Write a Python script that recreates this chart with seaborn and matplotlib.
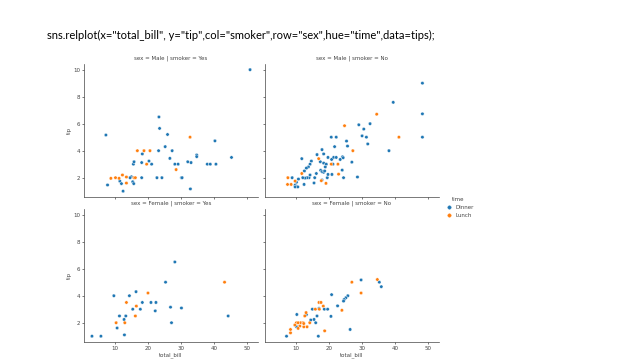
import numpy as np
import pandas as pd
import matplotlib
matplotlib.use("Agg")
import matplotlib.pyplot as plt
import seaborn as sns

# values (total_bill, tip) per facet and time
male_yes_dinner_bill = [50.8, 7.3, 7.8, 23.3, 23.5, 25.9, 25.2, 27.3, 23.2, 26.6, 28.1, 29.1,
                        30.1, 30.3, 32.8, 32.0, 33.0, 34.7, 34.7, 37.9, 38.8, 40.5, 40.2, 45.2,
                        22.7, 24.2, 18.1, 18.1, 18.3, 20.3, 21.1, 15.6, 15.8, 15.4, 15.7, 12.5,
                        11.5, 12.0, 15.0, 14.6]
male_yes_dinner_tip = [10.0, 5.16, 1.46, 6.5, 5.65, 5.2, 4.3, 4.0, 4.0, 3.43, 3.0, 3.0,
                       2.0, 2.0, 1.17, 3.18, 3.12, 3.68, 3.56, 3.0, 3.0, 3.0, 4.73, 3.5,
                       2.0, 2.0, 2.0, 3.12, 3.76, 3.23, 3.0, 3.0, 3.18, 1.7, 1.56, 1.0,
                       1.75, 1.56, 2.07, 2.0]
male_yes_lunch_bill = [8.8, 10.2, 11.3, 12.3, 13.5, 13.5, 15.8, 16.2, 16.8, 18.8, 20.6, 19.6,
                       28.5, 32.7]
male_yes_lunch_tip = [1.95, 2.0, 1.95, 2.2, 1.6, 2.05, 2.0, 2.0, 4.0, 4.0, 4.0, 3.0,
                      2.6, 5.0]

male_no_dinner_bill = [48.2, 48.2, 48.2, 39.4, 38.1, 32.4, 30.5, 29.0, 30.0, 31.3, 31.7, 20.7,
                       22.2, 25.3, 25.6, 21.7, 17.9, 16.4, 18.4, 21.4, 22.2, 24.1, 24.3, 20.8,
                       23.4, 19.7, 14.7, 14.3, 11.8, 13.8, 13.2, 12.6, 17.4, 18.4, 19.2, 21.2,
                       26.9, 24.0, 24.4, 28.6, 20.9, 19.5, 19.7, 17.5, 17.9, 18.4, 18.7, 16.2,
                       15.7, 14.0, 13.4, 12.8, 12.1, 10.8, 8.9, 15.5, 12.5, 10.2, 9.8, 10.2,
                       10.6, 9.8, 17.9, 18.9, 14.3]
male_no_dinner_tip = [9.0, 6.73, 5.0, 7.58, 4.0, 6.0, 5.6, 5.92, 5.1, 5.0, 4.5, 5.0,
                      5.0, 4.71, 4.34, 4.3, 4.08, 3.71, 3.76, 3.5, 3.5, 3.55, 3.48, 3.35,
                      3.35, 3.5, 3.23, 3.0, 3.41, 2.8, 2.71, 2.5, 3.18, 3.08, 3.0, 3.0,
                      3.15, 2.56, 2.0, 2.05, 2.24, 2.0, 2.24, 2.55, 2.45, 2.4, 2.5, 2.31,
                      2.0, 2.0, 2.0, 1.97, 2.0, 1.9, 2.0, 1.61, 1.5, 1.66, 1.45, 1.36,
                      1.32, 1.32, 1.83, 2.8, 2.2]
male_no_lunch_bill = [34.4, 24.7, 41.1, 27.2, 16.9, 22.7, 20.7, 22.9, 19.1, 17.7, 11.8, 9.8,
                      7.6, 7.5, 8.6]
male_no_lunch_tip = [6.7, 5.85, 5.0, 4.0, 3.41, 3.0, 3.0, 2.26, 1.58, 1.78, 2.31, 1.75,
                     2.0, 1.5, 1.5]

female_yes_dinner_bill = [28.1, 25.3, 16.4, 9.7, 14.4, 18.3, 20.9, 22.4, 15.4, 17.7, 22.2, 26.8,
                          30.1, 11.4, 13.3, 12.8, 27.1, 44.2, 10.7, 12.9, 3.1, 5.8]
female_yes_dinner_tip = [6.5, 5.0, 4.3, 4.0, 4.0, 3.5, 3.5, 3.5, 3.0, 3.0, 2.88, 3.15,
                         3.09, 2.5, 2.5, 2.24, 2.0, 2.5, 1.61, 1.1, 1.0, 1.0]
female_yes_lunch_bill = [43.1, 20.0, 13.5, 16.5, 16.2, 10.4, 13.0]
female_yes_lunch_tip = [5.0, 4.2, 3.5, 3.23, 2.5, 2.0, 2.0]

female_no_dinner_bill = [29.7, 35.2, 35.8, 20.8, 25.7, 25.1, 24.6, 24.4, 22.6, 17.0, 15.0, 18.6,
                         19.6, 20.6, 10.3, 13.2, 16.4, 14.5, 15.5, 16.0, 10.2, 7.2, 16.8, 26.4]
female_no_dinner_tip = [5.17, 5.0, 4.67, 4.08, 4.0, 3.85, 3.72, 3.6, 3.25, 3.06, 3.0, 3.0,
                        3.0, 2.47, 2.61, 2.6, 2.5, 2.2, 2.24, 2.0, 1.71, 1.0, 1.0, 1.5]
female_no_lunch_bill = [34.6, 26.9, 29.7, 17.0, 17.6, 18.3, 23.9, 15.9, 17.1, 13.1, 12.7, 11.5,
                        10.2, 10.7, 12.2, 14.2, 13.4, 12.4, 11.2, 10.7, 9.7, 8.4, 8.4, 12.4,
                        18.7]
female_no_lunch_tip = [5.2, 5.0, 4.2, 3.5, 3.5, 3.23, 2.92, 3.0, 3.0, 2.75, 2.5, 2.0,
                       2.0, 2.0, 2.0, 2.0, 1.7, 1.7, 1.75, 1.58, 1.83, 1.5, 1.25, 1.94,
                       1.4]

groups = [
    ("Male", "Yes", "Dinner", male_yes_dinner_bill, male_yes_dinner_tip),
    ("Male", "Yes", "Lunch", male_yes_lunch_bill, male_yes_lunch_tip),
    ("Male", "No", "Dinner", male_no_dinner_bill, male_no_dinner_tip),
    ("Male", "No", "Lunch", male_no_lunch_bill, male_no_lunch_tip),
    ("Female", "Yes", "Dinner", female_yes_dinner_bill, female_yes_dinner_tip),
    ("Female", "Yes", "Lunch", female_yes_lunch_bill, female_yes_lunch_tip),
    ("Female", "No", "Dinner", female_no_dinner_bill, female_no_dinner_tip),
    ("Female", "No", "Lunch", female_no_lunch_bill, female_no_lunch_tip),
]
frames = []
for sex, smoker, time, bill, tip in groups:
    frames.append(pd.DataFrame({"total_bill": bill, "tip": tip,
                                "sex": sex, "smoker": smoker, "time": time}))
tips = pd.concat(frames, ignore_index=True)

sns.set_theme(style="ticks", rc={
    "font.size": 4,
    "axes.labelsize": 4,
    "axes.titlesize": 4,
    "xtick.labelsize": 4,
    "ytick.labelsize": 4,
    "legend.fontsize": 4,
    "legend.title_fontsize": 4,
    "axes.linewidth": 0.5,
    "xtick.major.width": 0.5,
    "ytick.major.width": 0.5,
    "xtick.major.size": 1.5,
    "ytick.major.size": 1.5,
    "xtick.major.pad": 1,
    "ytick.major.pad": 1,
    "axes.labelpad": 1,
    "axes.titlepad": 3,
    "text.color": "#444444",
    "axes.labelcolor": "#444444",
    "xtick.color": "#444444",
    "ytick.color": "#444444",
    "axes.edgecolor": "#444444",
})

g = sns.relplot(x="total_bill", y="tip", col="smoker", row="sex", hue="time",
                data=tips, col_order=["Yes", "No"], row_order=["Male", "Female"],
                hue_order=["Dinner", "Lunch"], palette=["#1f77b4", "#ff7f0e"],
                s=6, linewidth=0.3, height=1.5, aspect=1.2)
g.set(xlim=(0.7, 53.2), ylim=(0.55, 10.45))
g.figure.set_size_inches(6.38, 3.59)
g.figure.subplots_adjust(left=84 / 638, right=439 / 638, top=1 - 63.6 / 359,
                         bottom=1 - 342.3 / 359, wspace=0.04, hspace=0.085)
sns.move_legend(g, "upper left", bbox_to_anchor=(441 / 638, 1 - 195 / 359),
                frameon=False, handletextpad=0.2, borderaxespad=0)

g.figure.text(47 / 638, 1 - 35 / 359,
              'sns.relplot(x="total_bill", y="tip",col="smoker",row="sex",hue="time",data=tips);',
              fontsize=8, family="Lato", color="black", va="center", ha="left")

g.figure.savefig("out.png", dpi=100, facecolor="white")
